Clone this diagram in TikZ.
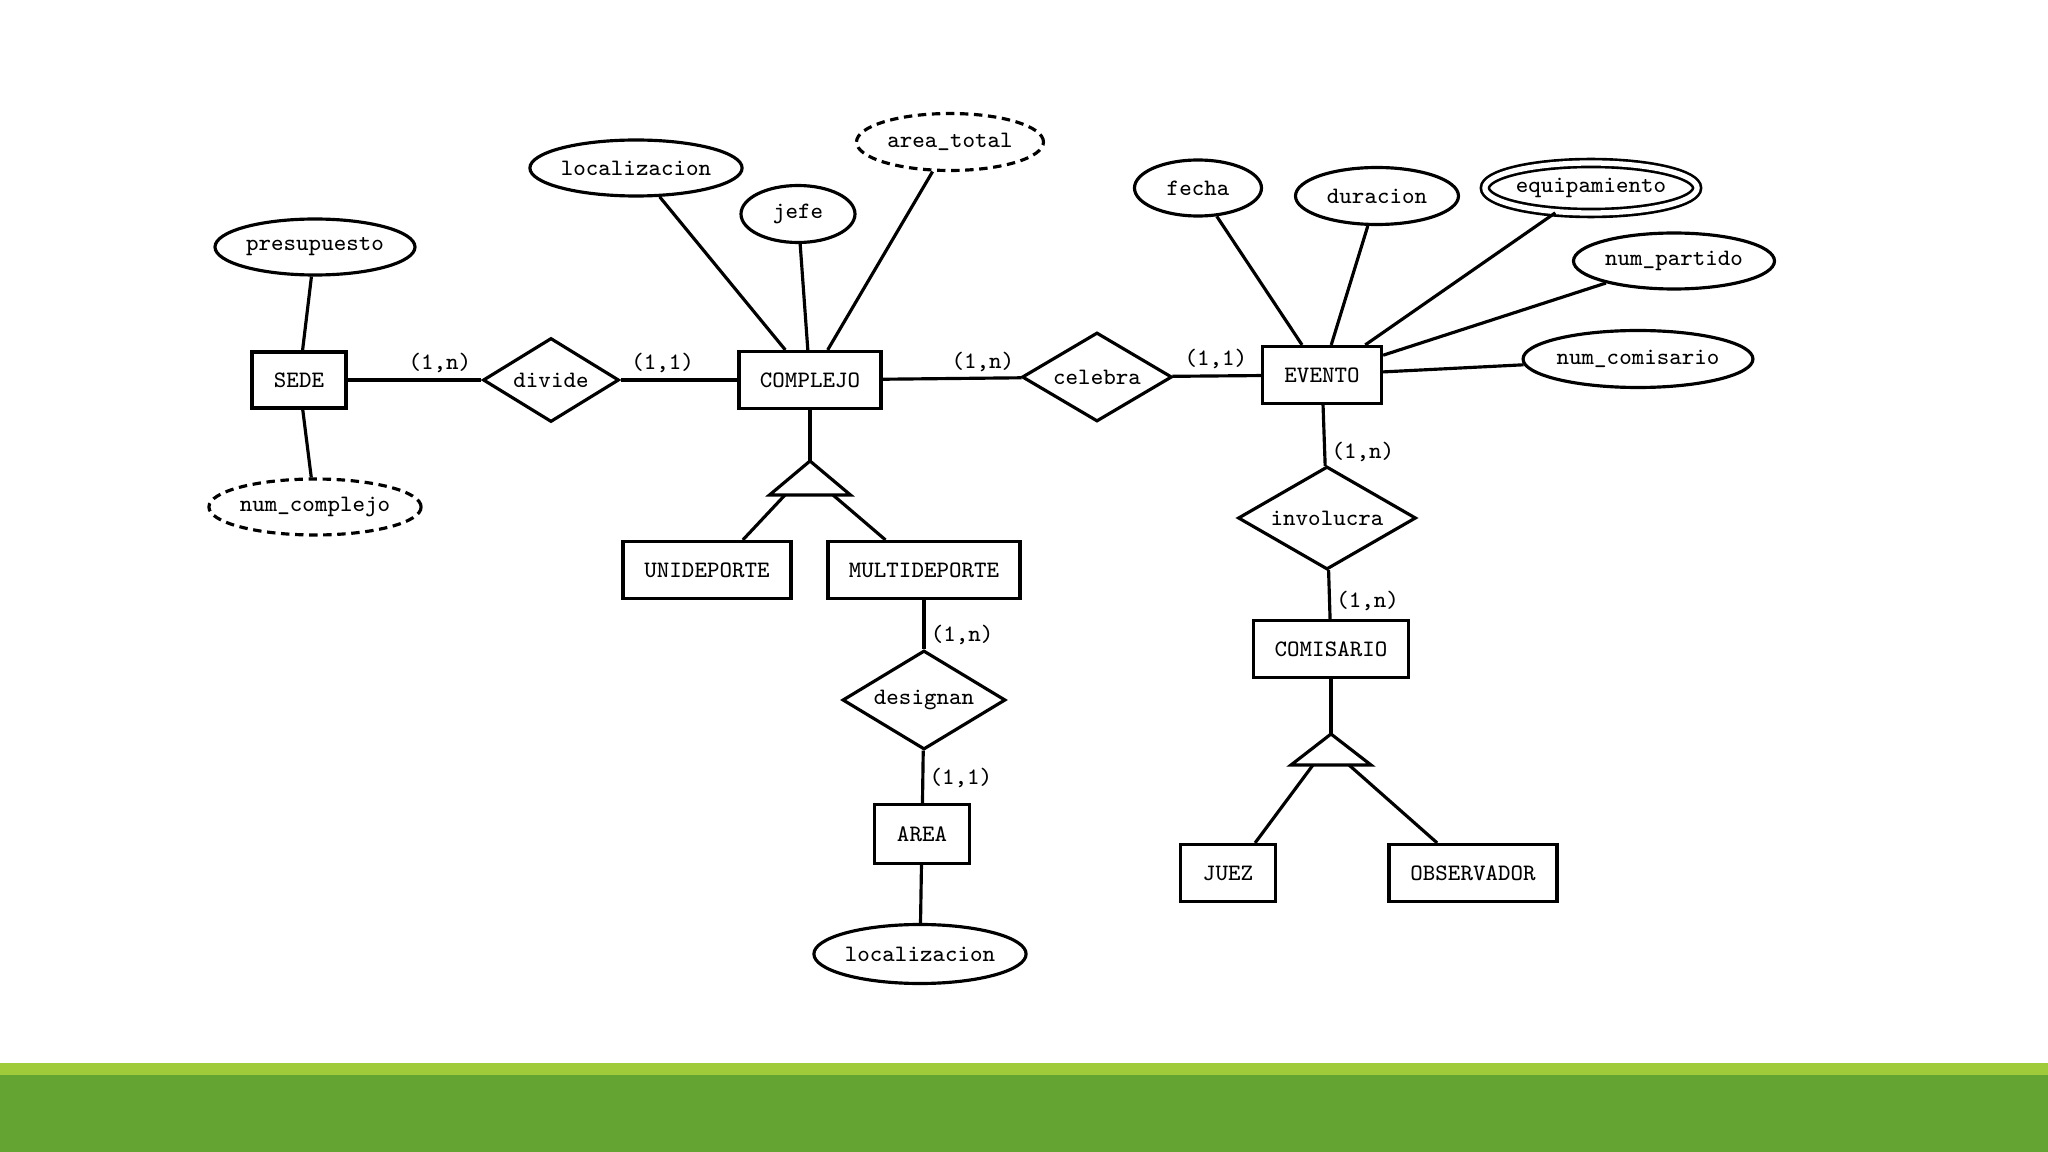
\documentclass[tikz,border=0pt]{standalone}
\usepackage{fontspec}
\usetikzlibrary{shapes.geometric, positioning}
\definecolor{barlight}{HTML}{9FCB3B}
\definecolor{bardark}{HTML}{64A433}

\begin{document}
\begin{tikzpicture}[font=\ttfamily\fontsize{6.7}{8}\selectfont, line width=0.9pt, on grid,
    entity/.style={draw, rectangle, inner sep=0pt, minimum height=0.57cm},
    relation/.style={draw, diamond, aspect=1.6, inner sep=0pt},
    attribute/.style={draw, ellipse, inner sep=0pt, minimum height=0.56cm},
    derived/.style={attribute, dash pattern=on 2.4pt off 1.6pt},
    multival/.style={attribute, line width=0.75pt, double, double distance=1.5pt},
    card/.style={inner sep=1.5pt}]
    \useasboundingbox (0,0) rectangle (20.48,-11.52);
    \fill[white] (0,0) rectangle (20.48,-11.52);
    \fill[barlight] (0,-10.63) rectangle (20.48,-10.75);
    \fill[bardark] (0,-10.75) rectangle (20.48,-11.52);

    % sede y complejo
    \node[entity, minimum width=0.94cm, minimum height=0.56cm] (sede) at (2.99,-3.80) {SEDE};
    \node[attribute, minimum width=2.00cm, above right=1.33cm and 0.16cm of sede] (presupuesto) {presupuesto};
    \node[derived, minimum width=2.12cm, below right=1.27cm and 0.16cm of sede] (numcomplejo) {num\_complejo};
    \node[relation, minimum width=1.36cm, minimum height=0.84cm, right=2.52cm of sede] (divide) {divide};
    \node[entity, minimum width=1.42cm, right=2.59cm of divide] (complejo) {COMPLEJO};
    \node[attribute, minimum width=2.12cm, above left=2.12cm and 1.74cm of complejo] (loccomplejo) {localizacion};
    \node[attribute, minimum width=1.14cm, minimum height=0.57cm, above left=1.66cm and 0.12cm of complejo] (jefe) {jefe};
    \node[derived, minimum width=1.87cm, minimum height=0.57cm, above right=2.38cm and 1.40cm of complejo] (areatotal) {area\_total};

    % evento
    \node[relation, minimum width=1.50cm, minimum height=0.89cm, above right=0.03cm and 2.87cm of complejo] (celebra) {celebra};
    \node[entity, minimum width=1.19cm, above right=0.02cm and 2.25cm of celebra] (evento) {EVENTO};
    \node[attribute, minimum width=1.27cm, above left=1.87cm and 1.24cm of evento] (fecha) {fecha};
    \node[attribute, minimum width=1.63cm, minimum height=0.57cm, above right=1.79cm and 0.55cm of evento] (duracion) {duracion};
    \node[multival, minimum width=2.01cm, minimum height=0.50cm, above right=1.87cm and 2.69cm of evento] (equipamiento) {equipamiento};
    \node[attribute, minimum width=2.01cm, above right=1.14cm and 3.52cm of evento] (numpartido) {num\_partido};
    \node[attribute, minimum width=2.25cm, minimum height=0.57cm, above right=0.16cm and 3.16cm of evento] (numcomisario) {num\_comisario};

    % comisario
    \node[relation, minimum width=1.78cm, minimum height=1.03cm, below right=1.43cm and 0.05cm of evento] (involucra) {involucra};
    \node[entity, minimum width=1.55cm, below right=1.31cm and 0.04cm of involucra] (comisario) {COMISARIO};
    \coordinate[below=0.85cm of comisario] (isa2);
    \coordinate[below left=0.31cm and 0.18cm of isa2] (isa2l);
    \coordinate[below right=0.31cm and 0.18cm of isa2] (isa2r);
    \node[entity, minimum width=0.95cm, below left=2.24cm and 1.03cm of comisario] (juez) {JUEZ};
    \node[entity, minimum width=1.68cm, below right=2.24cm and 1.42cm of comisario] (observador) {OBSERVADOR};

    % subtipos de complejo
    \coordinate[below=0.81cm of complejo] (isa1);
    \coordinate[below left=0.34cm and 0.25cm of isa1] (isa1l);
    \coordinate[below right=0.34cm and 0.23cm of isa1] (isa1r);
    \node[entity, minimum width=1.68cm, below left=1.90cm and 1.03cm of complejo] (unideporte) {UNIDEPORTE};
    \node[entity, minimum width=1.92cm, below right=1.90cm and 1.14cm of complejo] (multideporte) {MULTIDEPORTE};
    \node[relation, minimum width=1.63cm, minimum height=0.99cm, below=1.30cm of multideporte] (designan) {designan};
    \node[entity, minimum width=0.95cm, minimum height=0.59cm, below left=1.34cm and 0.02cm of designan] (area) {AREA};
    \node[attribute, minimum width=2.12cm, minimum height=0.59cm, below left=1.20cm and 0.02cm of area] (locarea) {localizacion};

    \draw (presupuesto) -- (sede);
    \draw (numcomplejo) -- (sede);
    \draw (sede) -- node[card, above, pos=0.69] {(1,n)} (divide);
    \draw (divide) -- node[card, above, pos=0.36] {(1,1)} (complejo);
    \draw (loccomplejo) -- (complejo);
    \draw (jefe) -- (complejo);
    \draw (areatotal) -- (complejo);
    \draw (complejo) -- node[card, above, pos=0.72] {(1,n)} (celebra);
    \draw (celebra) -- node[card, above, pos=0.49] {(1,1)} (evento);
    \draw (fecha) -- (evento);
    \draw (duracion) -- (evento);
    \draw (equipamiento) -- (evento);
    \draw (numpartido) -- (evento);
    \draw (numcomisario) -- (evento);
    \draw (evento) -- node[card, right, pos=0.77] {(1,n)} (involucra);
    \draw (involucra) -- node[card, right, pos=0.64] {(1,n)} (comisario);
    \draw (comisario) -- (isa2);
    \draw (isa2) -- ++(-0.40,-0.31) -- ++(0.80,0) -- cycle;
    \draw (isa2l) -- (juez.48);
    \draw (isa2r) -- (observador.140);
    \draw (complejo) -- (isa1);
    \draw (isa1) -- ++(-0.405,-0.34) -- ++(0.81,0) -- cycle;
    \draw (isa1l) -- (unideporte.40);
    \draw (isa1r) -- (multideporte.142);
    \draw (multideporte) -- node[card, right, pos=0.72] {(1,n)} (designan);
    \draw (designan) -- node[card, right, pos=0.53] {(1,1)} (area);
    \draw (area) -- (locarea);
\end{tikzpicture}
\end{document}
